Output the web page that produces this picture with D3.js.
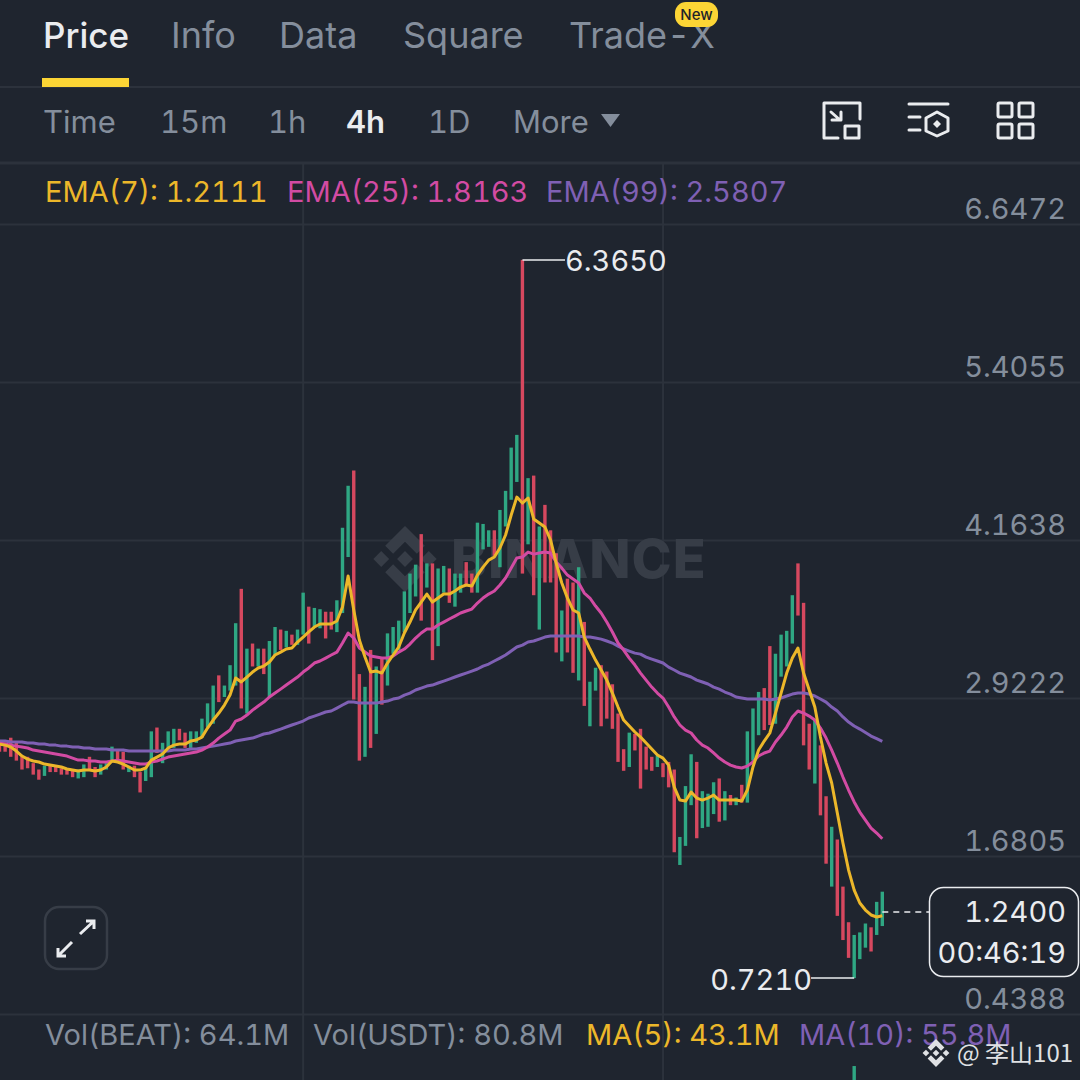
<!DOCTYPE html>
<html>
<head>
<meta charset="utf-8">
<script src="https://cdn.jsdelivr.net/npm/d3@7"></script>
<style>
  html, body { margin: 0; padding: 0; background: #1f252f; overflow: hidden; }
  svg { display: block; }
  text { font-family: Inter, "Noto Sans", sans-serif; font-variant-numeric: tabular-nums; }
</style>
</head>
<body>
<script>
// Price axis ticks
const priceTicks = [0.4388, 1.6805, 2.9222, 4.1638, 5.4055, 6.6472];
const timeGrid = [54, 118];

// Candles, oldest first, high and low of each 4h bar
const highs = [2.57,2.57,2.61,2.57,2.46,2.46,2.41,2.36,2.39,2.39,2.38,2.37,2.36,2.35,2.36,2.40,2.46,2.38,2.40,2.41,
  2.54,2.51,2.50,2.39,2.39,2.34,2.38,2.66,2.69,2.57,2.66,2.68,2.68,2.65,2.66,2.66,2.76,2.88,3.02,3.10,
  3.02,3.18,3.51,3.78,3.31,3.35,3.31,3.31,3.37,3.48,3.46,3.45,3.42,3.46,3.75,3.64,3.63,3.62,3.60,3.60,
  3.69,4.26,4.59,4.71,3.11,3.01,3.30,3.17,3.24,3.43,3.48,3.53,3.76,3.90,3.97,4.21,3.98,3.98,3.94,3.96,
  3.94,3.90,3.90,3.99,3.90,4.30,4.29,4.24,4.24,4.40,4.55,4.89,4.99,6.365,4.65,4.67,4.27,4.44,4.24,4.06,
  3.61,3.86,3.83,3.95,3.52,3.05,3.16,3.18,3.13,3.03,2.80,2.52,2.65,2.64,2.68,2.54,2.46,2.47,2.41,2.42,
  2.36,1.83,2.23,2.48,2.42,2.19,2.17,2.26,2.29,2.19,2.16,2.14,2.24,2.66,2.84,2.97,3.00,3.33,3.27,3.42,
  3.45,3.73,3.98,3.67,2.72,2.75,2.55,2.15,1.91,1.81,1.44,1.16,1.06,1.08,1.15,1.12,1.32,1.40];
const lows = [2.50,2.50,2.46,2.43,2.36,2.37,2.32,2.28,2.31,2.34,2.34,2.32,2.32,2.30,2.29,2.30,2.36,2.30,2.32,2.36,
  2.43,2.43,2.36,2.34,2.30,2.18,2.27,2.30,2.49,2.41,2.53,2.53,2.59,2.53,2.53,2.57,2.61,2.69,2.72,2.89,
  2.93,2.98,3.02,2.84,2.80,3.17,3.17,3.11,2.93,3.26,3.30,3.32,3.34,3.34,3.42,3.35,3.48,3.47,3.39,3.46,
  3.44,3.59,4.03,2.91,2.43,2.46,2.53,2.64,2.87,3.02,3.27,3.30,3.44,3.59,3.72,3.53,3.79,3.22,3.33,3.75,
  3.67,3.64,3.75,3.81,3.75,3.75,4.09,4.11,4.04,3.95,4.27,4.48,4.62,3.90,4.13,3.73,3.46,3.83,3.83,3.28,
  3.21,3.28,3.12,3.06,2.86,2.70,2.98,2.70,2.76,2.68,2.42,2.35,2.38,2.51,2.21,2.36,2.35,2.38,2.30,2.22,
  1.71,1.61,1.76,2.08,1.82,1.90,1.91,2.01,1.95,1.96,2.08,2.08,2.10,2.10,2.43,2.63,2.67,2.71,2.72,3.09,
  3.17,3.35,3.57,2.55,2.36,2.25,2.00,1.62,1.44,1.21,1.02,0.88,0.721,0.87,0.96,0.93,1.06,1.13];
// Indexes of the candles that closed up
const upCandles = [8,14,15,18,19,20,23,26,27,29,30,31,34,35,36,37,38,40,41,42,44,46,48,49,51,53,54,56,57,60,61,62,65,67,
  69,70,71,72,73,74,76,78,79,81,82,85,86,87,89,90,91,92,94,96,100,103,105,106,112,117,121,122,123,125,126,127,129,131,
  133,134,135,138,139,140,141,145,148,152,153,154,156,157];

const ema7 = [2.560,2.552,2.537,2.505,2.466,2.442,2.427,2.419,2.403,2.395,2.387,2.380,2.364,2.356,2.348,2.356,2.356,2.348,2.356,2.380,
  2.427,2.419,2.403,2.380,2.356,2.356,2.372,2.434,2.458,2.482,2.529,2.552,2.560,2.560,2.584,2.592,2.615,2.686,2.749,2.804,
  2.867,2.945,3.079,3.048,3.087,3.126,3.158,3.173,3.205,3.260,3.283,3.307,3.315,3.362,3.401,3.441,3.480,3.504,3.504,3.504,
  3.527,3.637,3.881,3.614,3.378,3.244,3.126,3.134,3.118,3.197,3.260,3.323,3.433,3.519,3.614,3.676,3.739,3.676,3.708,3.739,
  3.739,3.763,3.794,3.810,3.802,3.888,3.951,4.006,4.030,4.101,4.203,4.360,4.501,4.454,4.494,4.329,4.297,4.266,4.164,3.983,
  3.826,3.708,3.614,3.590,3.401,3.307,3.220,3.142,3.063,2.961,2.851,2.749,2.702,2.655,2.615,2.568,2.521,2.474,2.450,2.395,
  2.222,2.120,2.112,2.183,2.136,2.120,2.136,2.159,2.120,2.120,2.120,2.120,2.112,2.199,2.380,2.513,2.584,2.647,2.804,2.961,
  3.118,3.236,3.315,3.118,2.985,2.851,2.615,2.411,2.254,2.018,1.782,1.570,1.413,1.311,1.256,1.217,1.201,1.211];
const ema25 = [2.568,2.560,2.552,2.544,2.537,2.529,2.513,2.505,2.497,2.490,2.482,2.474,2.466,2.450,2.434,2.434,2.427,2.427,2.419,2.419,
  2.427,2.434,2.427,2.419,2.411,2.403,2.403,2.419,2.427,2.442,2.458,2.466,2.474,2.482,2.490,2.497,2.513,2.537,2.568,2.607,
  2.639,2.670,2.741,2.757,2.788,2.827,2.859,2.890,2.930,2.961,2.992,3.024,3.055,3.087,3.126,3.158,3.197,3.213,3.236,3.260,
  3.283,3.354,3.433,3.393,3.315,3.283,3.252,3.244,3.236,3.236,3.252,3.283,3.307,3.346,3.393,3.433,3.464,3.464,3.496,3.519,
  3.543,3.566,3.590,3.606,3.621,3.668,3.708,3.739,3.763,3.810,3.865,3.943,4.022,4.030,4.069,4.053,4.061,4.069,4.061,3.991,
  3.943,3.888,3.857,3.826,3.747,3.708,3.645,3.590,3.519,3.441,3.354,3.299,3.236,3.181,3.118,3.063,3.008,2.961,2.922,2.851,
  2.773,2.710,2.670,2.647,2.592,2.552,2.529,2.490,2.450,2.419,2.395,2.380,2.372,2.387,2.419,2.466,2.490,2.505,2.576,2.631,
  2.694,2.773,2.820,2.804,2.780,2.749,2.686,2.607,2.513,2.411,2.301,2.199,2.105,2.026,1.963,1.900,1.861,1.816];
const ema99 = [2.584,2.584,2.576,2.576,2.576,2.568,2.568,2.560,2.560,2.552,2.552,2.544,2.544,2.537,2.537,2.529,2.529,2.521,2.521,2.521,
  2.513,2.513,2.513,2.505,2.505,2.505,2.505,2.505,2.505,2.505,2.505,2.513,2.513,2.513,2.521,2.521,2.529,2.537,2.544,2.552,
  2.560,2.568,2.584,2.592,2.600,2.607,2.623,2.639,2.647,2.663,2.678,2.694,2.710,2.725,2.741,2.765,2.780,2.796,2.812,2.820,
  2.843,2.867,2.890,2.890,2.882,2.882,2.882,2.882,2.890,2.898,2.914,2.922,2.945,2.961,2.985,3.000,3.016,3.024,3.040,3.055,
  3.071,3.087,3.103,3.118,3.134,3.150,3.173,3.189,3.213,3.236,3.260,3.291,3.323,3.338,3.362,3.370,3.385,3.401,3.409,3.409,
  3.409,3.409,3.409,3.409,3.401,3.401,3.393,3.385,3.370,3.354,3.330,3.307,3.291,3.275,3.267,3.244,3.228,3.213,3.197,3.165,
  3.142,3.118,3.103,3.087,3.063,3.048,3.032,3.008,2.992,2.969,2.953,2.930,2.922,2.914,2.914,2.914,2.914,2.906,2.914,2.922,
  2.938,2.953,2.961,2.961,2.953,2.938,2.914,2.890,2.851,2.820,2.773,2.733,2.702,2.678,2.651,2.623,2.603,2.581];

// Only one volume bar reaches into the picture
const volumeBars = [{ index: 152, value: 189 }];
const volumeTicks = [150];

const tabs = ["Price", "Info", "Data", "Square", "Trade-X"];
const intervals = ["Time", "15m", "1h", "4h", "1D", "More"];
const emaLegend = ["EMA(7): 1.2111", "EMA(25): 1.8163", "EMA(99): 2.5807"];
const volLegend = ["Vol(BEAT): 64.1M", "Vol(USDT): 80.8M", "MA(5): 43.1M", "MA(10): 55.8M"];

const width = 1080;
const height = 1080;
const bg = "#1f252f";
const gridColor = "#2c323c";
const grey = "#848e9c";
const yellow = "#ecb72a";
const pink = "#d24ba3";
const purple = "#7f60b4";
const green = "#2fa783";
const red = "#d6485f";
const white = "#eaecef";

const svg = d3.select("body")
  .append("svg")
  .attr("width", width)
  .attr("height", height);

svg.append("rect").attr("width", width).attr("height", height).attr("fill", bg);

const x = d3.scaleLinear().domain([0, 157]).range([-0.5, 882.3]);
const y = d3.scaleLinear().domain([0.4388, 6.6472]).range([1014, 224]);
const volY = d3.scaleLinear().domain([0, 150]).range([1250, 1104]);

// Small helper for the text in the top rows and legends
function label(str, px, py, size, fill, weight, anchor) {
  return svg.append("text")
    .attr("x", px)
    .attr("y", py)
    .attr("dy", "0.36em")
    .attr("font-size", size)
    .attr("font-weight", weight || 400)
    .attr("text-anchor", anchor || "start")
    .attr("fill", fill)
    .text(str);
}

// Vertical grid
svg.selectAll(".vgrid")
  .data(timeGrid)
  .enter()
  .append("line")
  .attr("class", "vgrid")
  .attr("x1", d => x(d))
  .attr("x2", d => x(d))
  .attr("y1", 164)
  .attr("y2", height)
  .attr("stroke", gridColor)
  .attr("stroke-width", 2);

// Price axis with full width grid lines
const axis = svg.append("g")
  .attr("transform", `translate(${width},0)`)
  .call(d3.axisLeft(y).tickValues(priceTicks).tickSize(width).tickFormat(d3.format(".4f")));
axis.select(".domain").remove();
axis.selectAll("line").attr("stroke", gridColor).attr("stroke-width", 2);
axis.selectAll("text")
  .attr("x", -14)
  .attr("dy", "-0.2em")
  .attr("fill", grey)
  .attr("font-size", 29)
  .attr("font-family", "Inter, sans-serif");

// Row dividers
[87, 163].forEach((py, i) => {
  svg.append("line")
    .attr("x1", 0).attr("x2", width)
    .attr("y1", py).attr("y2", py)
    .attr("stroke", gridColor)
    .attr("stroke-width", i === 0 ? 2 : 3);
});

// Watermark
const mark = svg.append("g").attr("fill", "#373d47");
mark.append("text")
  .attr("x", 451).attr("y", 578)
  .attr("font-size", 54).attr("font-weight", 800)
  .attr("letter-spacing", 1)
  .text("BINANCE");
function diamondLogo(g, cx, cy, s) {
  const d = (dx, dy, r) => `M${cx + dx * s},${cy + dy * s - r * s}L${cx + dx * s + r * s},${cy + dy * s}L${cx + dx * s},${cy + dy * s + r * s}L${cx + dx * s - r * s},${cy + dy * s}Z`;
  g.append("path").attr("d", d(0, 0, 0.24));
  g.append("path").attr("d", d(-0.72, 0, 0.24));
  g.append("path").attr("d", d(0.72, 0, 0.24));
  const chevron = (dir) => `M${cx},${cy + dir * s}L${cx + 0.6 * s},${cy + dir * 0.4 * s}L${cx + 0.36 * s},${cy + dir * 0.16 * s}L${cx},${cy + dir * 0.52 * s}L${cx - 0.36 * s},${cy + dir * 0.16 * s}L${cx - 0.6 * s},${cy + dir * 0.4 * s}Z`;
  g.append("path").attr("d", chevron(-1));
  g.append("path").attr("d", chevron(1));
}
diamondLogo(mark, 405, 559, 33);

// Candles
const up = new Set(upCandles);
svg.selectAll(".candle")
  .data(highs.map((h, i) => ({ i, h, l: lows[i] })))
  .enter()
  .append("rect")
  .attr("class", "candle")
  .attr("x", d => x(d.i) - 1.7)
  .attr("width", 3.4)
  .attr("y", d => y(d.h))
  .attr("height", d => y(d.l) - y(d.h))
  .attr("fill", d => up.has(d.i) ? green : red);

// EMA lines
const line = d3.line().x((d, i) => x(i)).y(d => y(d));
[[ema99, purple], [ema25, pink], [ema7, yellow]].forEach(([series, color]) => {
  svg.append("path")
    .attr("d", line(series))
    .attr("fill", "none")
    .attr("stroke", color)
    .attr("stroke-width", 3)
    .attr("stroke-linejoin", "round");
});

// Volume panel, mostly out of the frame
svg.selectAll(".vol")
  .data(volumeBars)
  .enter()
  .append("rect")
  .attr("class", "vol")
  .attr("x", d => x(d.index) - 1.7)
  .attr("width", 3.4)
  .attr("y", d => volY(d.value))
  .attr("height", d => volY(0) - volY(d.value))
  .attr("fill", green);
volumeTicks.forEach(v => label(v + "M", 1066, volY(v) - 12, 29, grey, 400, "end"));

// High and low markers
const hi = d3.max(highs);
const lo = d3.min(lows);
svg.append("line")
  .attr("x1", x(highs.indexOf(hi))).attr("x2", 565)
  .attr("y1", y(hi)).attr("y2", y(hi))
  .attr("stroke", white).attr("stroke-width", 1.5);
label(d3.format(".4f")(hi), 565, y(hi) + 1, 29, white);
svg.append("line")
  .attr("x1", x(lows.indexOf(lo))).attr("x2", 811)
  .attr("y1", y(lo)).attr("y2", y(lo))
  .attr("stroke", white).attr("stroke-width", 1.5);
label(d3.format(".4f")(lo), 812, y(lo) + 1, 29, white, 400, "end");

// Last price tag
const lastPrice = 1.24;
svg.append("line")
  .attr("x1", x(157)).attr("x2", 929)
  .attr("y1", y(lastPrice)).attr("y2", y(lastPrice))
  .attr("stroke", white).attr("stroke-width", 1.5).attr("stroke-dasharray", "6 5");
svg.append("rect")
  .attr("x", 929.5).attr("y", 887.5).attr("width", 149).attr("height", 89).attr("rx", 14)
  .attr("fill", bg).attr("stroke", white).attr("stroke-width", 1.5);
label("1.2400", 1066, 912, 29, white, 400, "end");
label("00:46:19", 1066, 953, 29, white, 400, "end");

// Top tabs
const tabX = [43, 171, 279, 403, 569];
tabs.forEach((t, i) => label(t, tabX[i], 35, i === 0 ? 35 : 36, i === 0 ? white : grey, i === 0 ? 500 : 400));
svg.append("rect").attr("x", 42).attr("y", 78).attr("width", 87).attr("height", 9).attr("fill", "#fcd535");
svg.append("rect").attr("x", 675).attr("y", 2).attr("width", 43).attr("height", 25).attr("rx", 11).attr("fill", "#fcd535");
label("New", 696.5, 15, 15, "#1e2329", 500, "middle");

// Interval row
const intervalX = [43, 160, 268, 346, 428, 513];
intervals.forEach((t, i) => label(t, intervalX[i], 122, 31, t === "4h" ? white : grey, t === "4h" ? 600 : 400));
svg.append("path").attr("d", "M601,114H620L610.5,127Z").attr("fill", grey);

// Toolbar icons
const icons = svg.append("g").attr("fill", "none").attr("stroke", white).attr("stroke-width", 3).attr("stroke-linecap", "round").attr("stroke-linejoin", "round");
icons.append("path").attr("d", "M838,138H824V103H860V119");
icons.append("rect").attr("x", 845).attr("y", 126).attr("width", 14).attr("height", 12);
icons.append("path").attr("d", "M831,112L840,120M832,120H841V112");
icons.append("path").attr("d", "M909,104H948M909,117H920M909,130H920");
icons.append("path").attr("d", "M937,112L948,118V131L937,136L926,131V118Z");
icons.append("path").attr("d", "M937,120L941,124L937,128L933,124Z").attr("fill", white).attr("stroke", "none");
[[998, 103], [1019, 103], [998, 124], [1019, 124]].forEach(([a, b]) => {
  icons.append("rect").attr("x", a).attr("y", b).attr("width", 14).attr("height", 14).attr("rx", 1.5);
});

// Legends
const emaX = [45, 287, 546];
const emaColors = [yellow, pink, purple];
emaLegend.forEach((t, i) => label(t, emaX[i], 192, 29, emaColors[i]));
const volX = [45, 313, 586, 799];
const volColors = [grey, grey, yellow, purple];
volLegend.forEach((t, i) => label(t, volX[i], 1035, 29, volColors[i]));

// Expand button
svg.append("rect").attr("x", 45).attr("y", 907).attr("width", 62).attr("height", 62).attr("rx", 14)
  .attr("fill", "none").attr("stroke", "#373d47").attr("stroke-width", 2.5);
svg.append("path")
  .attr("d", "M80,934L94,921M86,921H94V929M72,942L58,956M58,948V956H66")
  .attr("fill", "none").attr("stroke", white).attr("stroke-width", 3);

// Author tag
const tag = svg.append("g").attr("fill", "#dfe1e4");
diamondLogo(tag, 936, 1053, 14);
tag.append("text")
  .attr("x", 957).attr("y", 1062)
  .attr("font-size", 24)
  .attr("style", 'font-family:"Noto Sans CJK SC", sans-serif')
  .text("@ 李山101");
</script>
</body>
</html>
